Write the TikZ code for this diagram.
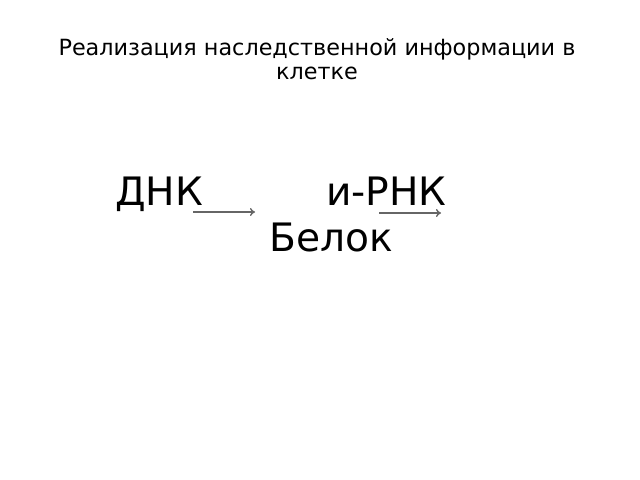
\documentclass[tikz,border=0pt]{standalone}
\usepackage{fontspec}
\setmainfont{DejaVu Sans}
\usetikzlibrary{arrows.meta}
\begin{document}
\begin{tikzpicture}[x=1bp,y=-1bp,
  title/.style={font=\fontsize{22.4}{24}\selectfont, inner sep=0pt, anchor=base},
  big/.style={font=\fontsize{39.3}{44}\selectfont, inner sep=0pt, anchor=base west},
  conn/.style={draw=black!60, line width=1.4bp, -{To[length=5bp,width=8bp]}}]
\useasboundingbox (0,0) rectangle (640,480);
\fill[white] (0,0) rectangle (640,480);
\node[title] (t1) at (317,56) {Реализация наследственной информации в};
\node[title] (t2) at (317,80) {клетке};
\node[big] (dna) at (115,206) {ДНК};
\node[big] (rna) at (326,206) {и-РНК};
\node[big] (prot) at (269,252) {Белок};
\coordinate (a1s) at (193,212);
\coordinate (a1e) at (255,212);
\coordinate (a2s) at (379,213);
\coordinate (a2e) at (441,213);
\draw[conn] (a1s) -- (a1e);
\draw[conn] (a2s) -- (a2e);
\end{tikzpicture}
\end{document}
